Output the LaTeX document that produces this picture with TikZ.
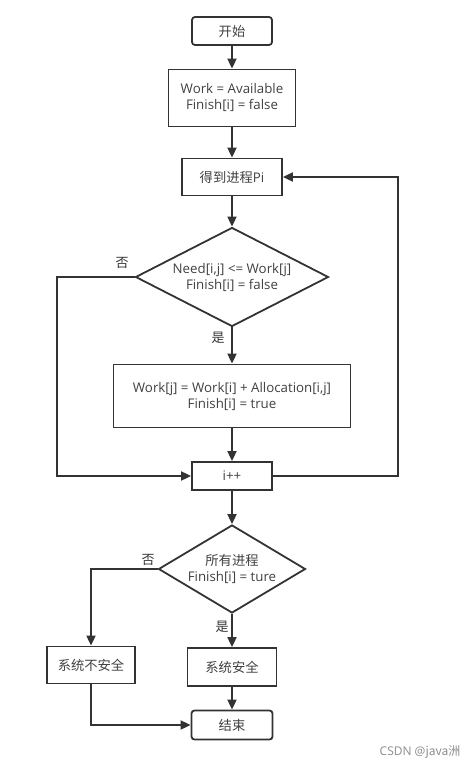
\documentclass[tikz,border=0pt]{standalone}
\usepackage{fontspec}
\setmainfont{Open Sans}
\newfontfamily\cjk{Noto Sans CJK SC}
\usetikzlibrary{arrows.meta, positioning, shapes.geometric}

\begin{document}
\begin{tikzpicture}[
  x=1pt, y=-1pt,
  base/.style={draw=black!80, line width=1.8pt, align=center, inner sep=0pt,
               font=\fontsize{13.3}{16}\selectfont, text=black!75},
  box/.style={base, rectangle},
  term/.style={base, rectangle, rounded corners=3pt},
  cond/.style={base, diamond, aspect=2},
  lab/.style={font=\cjk\fontsize{13}{14}\selectfont, text=black!80},
  arr/.style={-{Triangle[length=10pt, width=9pt]}, line width=1.8pt, draw=black!80}
]
\useasboundingbox (0,0) rectangle (475,770);

\node[term, minimum width=80pt, minimum height=28pt]  (start)  at (232,31)  {\cjk 开始};
\node[box, minimum width=127pt, minimum height=57pt]  (init)   at (232,98)  {Work = Available\\Finish[i] = false};
\node[box, minimum width=100pt, minimum height=37pt]  (getp)   at (232,177) {{\cjk 得到进程}Pi};
\node[cond, minimum width=193pt, minimum height=99pt] (check)  at (232,277) {Need[i,j] <= Work[j]\\Finish[i] = false};
\node[box, minimum width=237pt, minimum height=63pt]  (update) at (232,396) {Work[j] = Work[i] + Allocation[i,j]\\Finish[i] = true};
\node[box, minimum width=80pt, minimum height=28pt]   (inc)    at (232,476) {i++};
\node[cond, minimum width=140pt, minimum height=88pt] (all)    at (232,569) {{\cjk 所有进程}\\Finish[i] = ture};
\node[box, minimum width=88pt, minimum height=37pt]   (unsafe) at (91,665)  {\cjk 系统不安全};
\node[box, minimum width=89pt, minimum height=38pt]   (safe)   at (232,667) {\cjk 系统安全};
\node[term, minimum width=81pt, minimum height=29pt]  (stop)   at (232,725) {\cjk 结束};

\coordinate (lft) at (57,277);
\coordinate (rgt) at (398,476);

\draw[arr] (start) -- (init);
\draw[arr] (init) -- (getp);
\draw[arr] (getp) -- (check);
\draw[arr] (check) -- (update);
\draw[arr] (update) -- (inc);
\draw[arr] (check.west) -- (lft) |- (inc.west);
\draw[arr] (inc.east) -- (rgt) |- (getp.east);
\draw[arr] (inc) -- (all);
\draw[arr] (all.west) -| (unsafe.north);
\draw[arr] (all) -- (safe);
\draw[arr] (safe) -- (stop);
\draw[arr] (unsafe.south) |- (stop.west);

\node[lab] (no1)  at (122,263) {否};
\node[lab] (yes1) at (218,338) {是};
\node[lab] (no2)  at (148,560) {否};
\node[lab] (yes2) at (222,627) {是};

\node[font=\fontsize{12}{13}\selectfont, text=black!45] (mark) at (420,752) {CSDN @{\cjk java洲}};
\end{tikzpicture}
\end{document}
